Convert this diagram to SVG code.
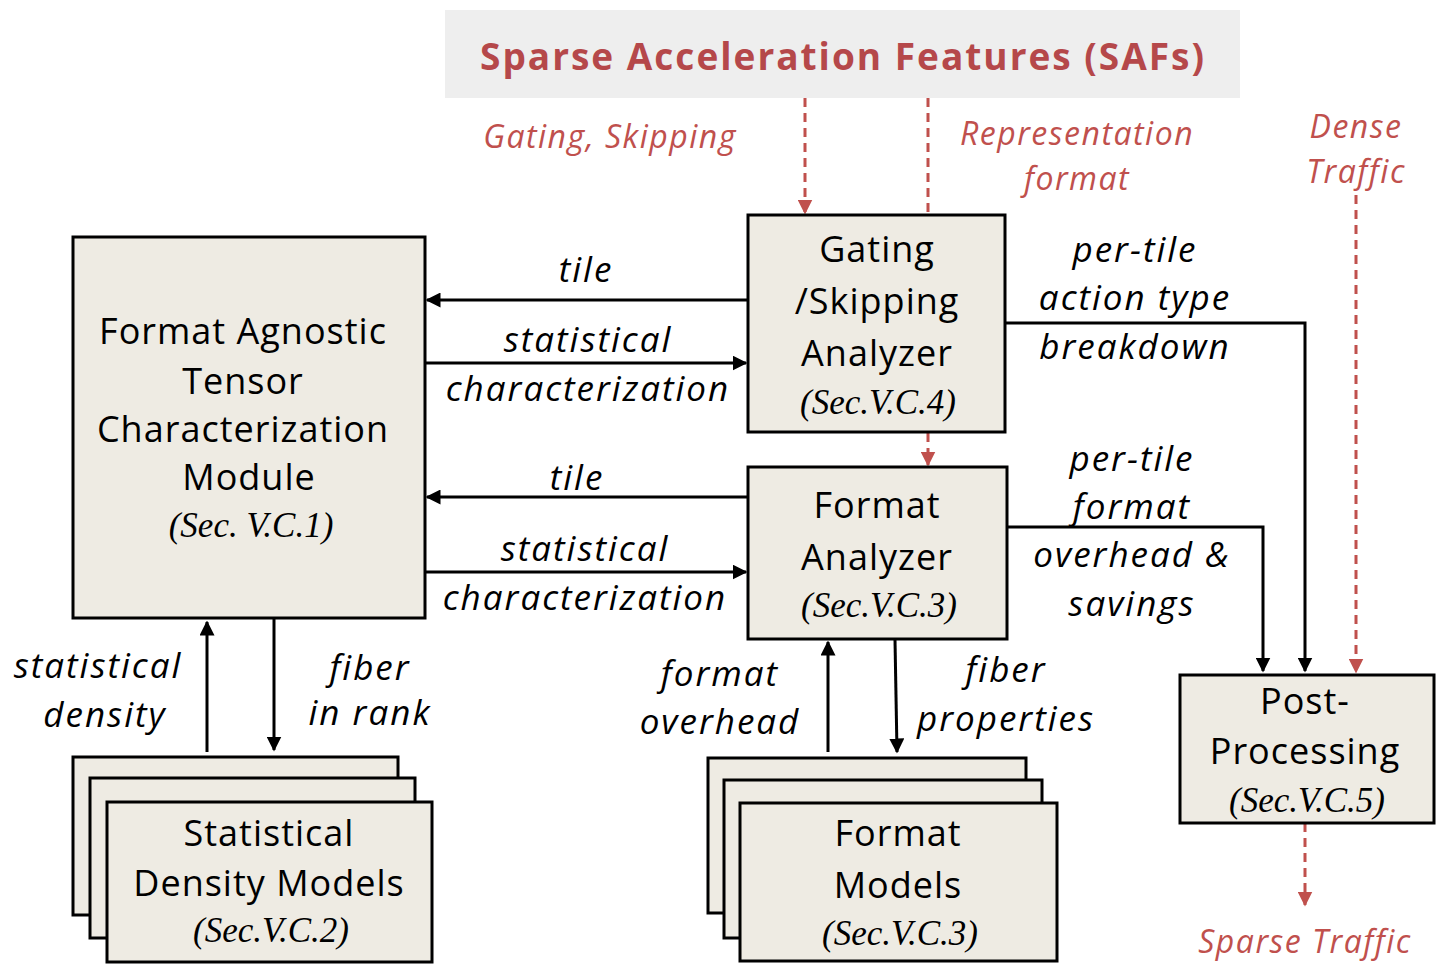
<svg xmlns="http://www.w3.org/2000/svg" width="1449" height="973" viewBox="0 0 1449 973">
<defs>
<marker id="ab" viewBox="0 0 10 10" refX="9" refY="5" markerWidth="5" markerHeight="5" orient="auto"><path d="M0,0L10,5L0,10z" fill="#000"/></marker>
<marker id="ar" viewBox="0 0 10 10" refX="9" refY="5" markerWidth="5" markerHeight="5" orient="auto"><path d="M0,0L10,5L0,10z" fill="#c0504d"/></marker>
</defs>
<style>
.box{fill:#eeebe3;stroke:#000;stroke-width:3}
.t{font-family:"Open Sans",Lato,sans-serif;font-size:36px;letter-spacing:1px;text-anchor:middle;fill:#000}
.s{font-family:"Liberation Serif",serif;font-style:italic;font-size:35px;text-anchor:middle;fill:#000}
.l{font-family:"Open Sans",Lato,sans-serif;font-style:italic;font-size:35px;letter-spacing:2px;text-anchor:middle;fill:#000}
.r{font-family:"Open Sans",Lato,sans-serif;font-style:italic;font-size:32px;letter-spacing:1.5px;text-anchor:middle;fill:#c0504d}
.c{fill:none;stroke:#000;stroke-width:3}
.d{fill:none;stroke:#c0504d;stroke-width:3;stroke-dasharray:9 6}
</style>
<rect width="1449" height="973" fill="#fff"/>
<g id="saf"><rect x="445" y="10" width="795" height="88" fill="#eeeeee"/>
<text x="843" y="70" font-family="Open Sans,sans-serif" font-weight="bold" font-size="37" letter-spacing="2" text-anchor="middle" fill="#b5484a">Sparse  Acceleration Features (SAFs)</text></g>
<g id="connectors">
<path class="d" d="M805,98V213" marker-end="url(#ar)"/>
<path class="d" d="M928,98V215"/>
<path class="d" d="M928,433V465" marker-end="url(#ar)"/>
<path class="d" d="M1356,195V672" marker-end="url(#ar)"/>
<path class="d" d="M1305,823V905" marker-end="url(#ar)"/>
<path class="c" d="M748,300H427" marker-end="url(#ab)"/>
<path class="c" d="M425,363H746" marker-end="url(#ab)"/>
<path class="c" d="M748,497H427" marker-end="url(#ab)"/>
<path class="c" d="M425,572H746" marker-end="url(#ab)"/>
<path class="c" d="M207,752V622" marker-end="url(#ab)"/>
<path class="c" d="M274,618V750" marker-end="url(#ab)"/>
<path class="c" d="M828,752V642" marker-end="url(#ab)"/>
<path class="c" d="M895,640L897,752" marker-end="url(#ab)"/>
<path class="c" d="M1005,323H1305V671" marker-end="url(#ab)"/>
<path class="c" d="M1007,527H1263V671" marker-end="url(#ab)"/>
</g>
<g id="labels">
<text class="r" x="610" y="148">Gating, Skipping</text>
<text class="r" x="1077" y="145">Representation</text>
<text class="r" x="1077" y="190">format</text>
<text class="r" x="1356" y="138">Dense</text>
<text class="r" x="1356" y="183">Traffic</text>
<text class="r" x="1305" y="953">Sparse Traffic</text>
<text class="l" x="586" y="282">tile</text>
<text class="l" x="588" y="352">statistical</text>
<text class="l" x="588" y="401">characterization</text>
<text class="l" x="577" y="490">tile</text>
<text class="l" x="585" y="561">statistical</text>
<text class="l" x="585" y="610">characterization</text>
<text class="l" x="98" y="678">statistical</text>
<text class="l" x="105" y="727">density</text>
<text class="l" x="370" y="680">fiber</text>
<text class="l" x="370" y="725">in rank</text>
<text class="l" x="720" y="686">format</text>
<text class="l" x="720" y="734">overhead</text>
<text class="l" x="1006" y="682">fiber</text>
<text class="l" x="1006" y="731">properties</text>
<text class="l" x="1135" y="262">per-tile</text>
<text class="l" x="1135" y="310">action type</text>
<text class="l" x="1135" y="359">breakdown</text>
<text class="l" x="1132" y="471">per-tile</text>
<text class="l" x="1132" y="519">format</text>
<text class="l" x="1132" y="567">overhead &amp;</text>
<text class="l" x="1132" y="616">savings</text>
</g>
<g id="fatcm"><rect class="box" x="73" y="237" width="352" height="381"/>
<text class="t" x="243" y="344">Format Agnostic</text><text class="t" x="243" y="394">Tensor</text><text class="t" x="243" y="442">Characterization</text><text class="t" x="249" y="490">Module</text><text class="s" x="251" y="537">(Sec. V.C.1)</text></g>
<g id="gating"><rect class="box" x="748" y="215" width="257" height="217"/>
<text class="t" x="877" y="262">Gating</text><text class="t" x="877" y="314">/Skipping</text><text class="t" x="877" y="366">Analyzer</text><text class="s" x="878" y="414">(Sec.V.C.4)</text></g>
<g id="format"><rect class="box" x="748" y="467" width="259" height="172"/>
<text class="t" x="877" y="518">Format</text><text class="t" x="877" y="570">Analyzer</text><text class="s" x="879" y="617">(Sec.V.C.3)</text></g>
<g id="post"><rect class="box" x="1180" y="675" width="254" height="148"/>
<text class="t" x="1305" y="714">Post-</text><text class="t" x="1305" y="764">Processing</text><text class="s" x="1307" y="812">(Sec.V.C.5)</text></g>
<g id="sdm"><rect class="box" x="73" y="757" width="325" height="158"/><rect class="box" x="90" y="778" width="325" height="160"/><rect class="box" x="107" y="802" width="325" height="160"/>
<text class="t" x="269" y="846">Statistical</text><text class="t" x="269" y="896">Density Models</text><text class="s" x="271" y="942">(Sec.V.C.2)</text></g>
<g id="fm"><rect class="box" x="708" y="758" width="318" height="155"/><rect class="box" x="724" y="780" width="318" height="158"/><rect class="box" x="740" y="803" width="317" height="158"/>
<text class="t" x="898" y="846">Format</text><text class="t" x="898" y="898">Models</text><text class="s" x="900" y="945">(Sec.V.C.3)</text></g>
</svg>
